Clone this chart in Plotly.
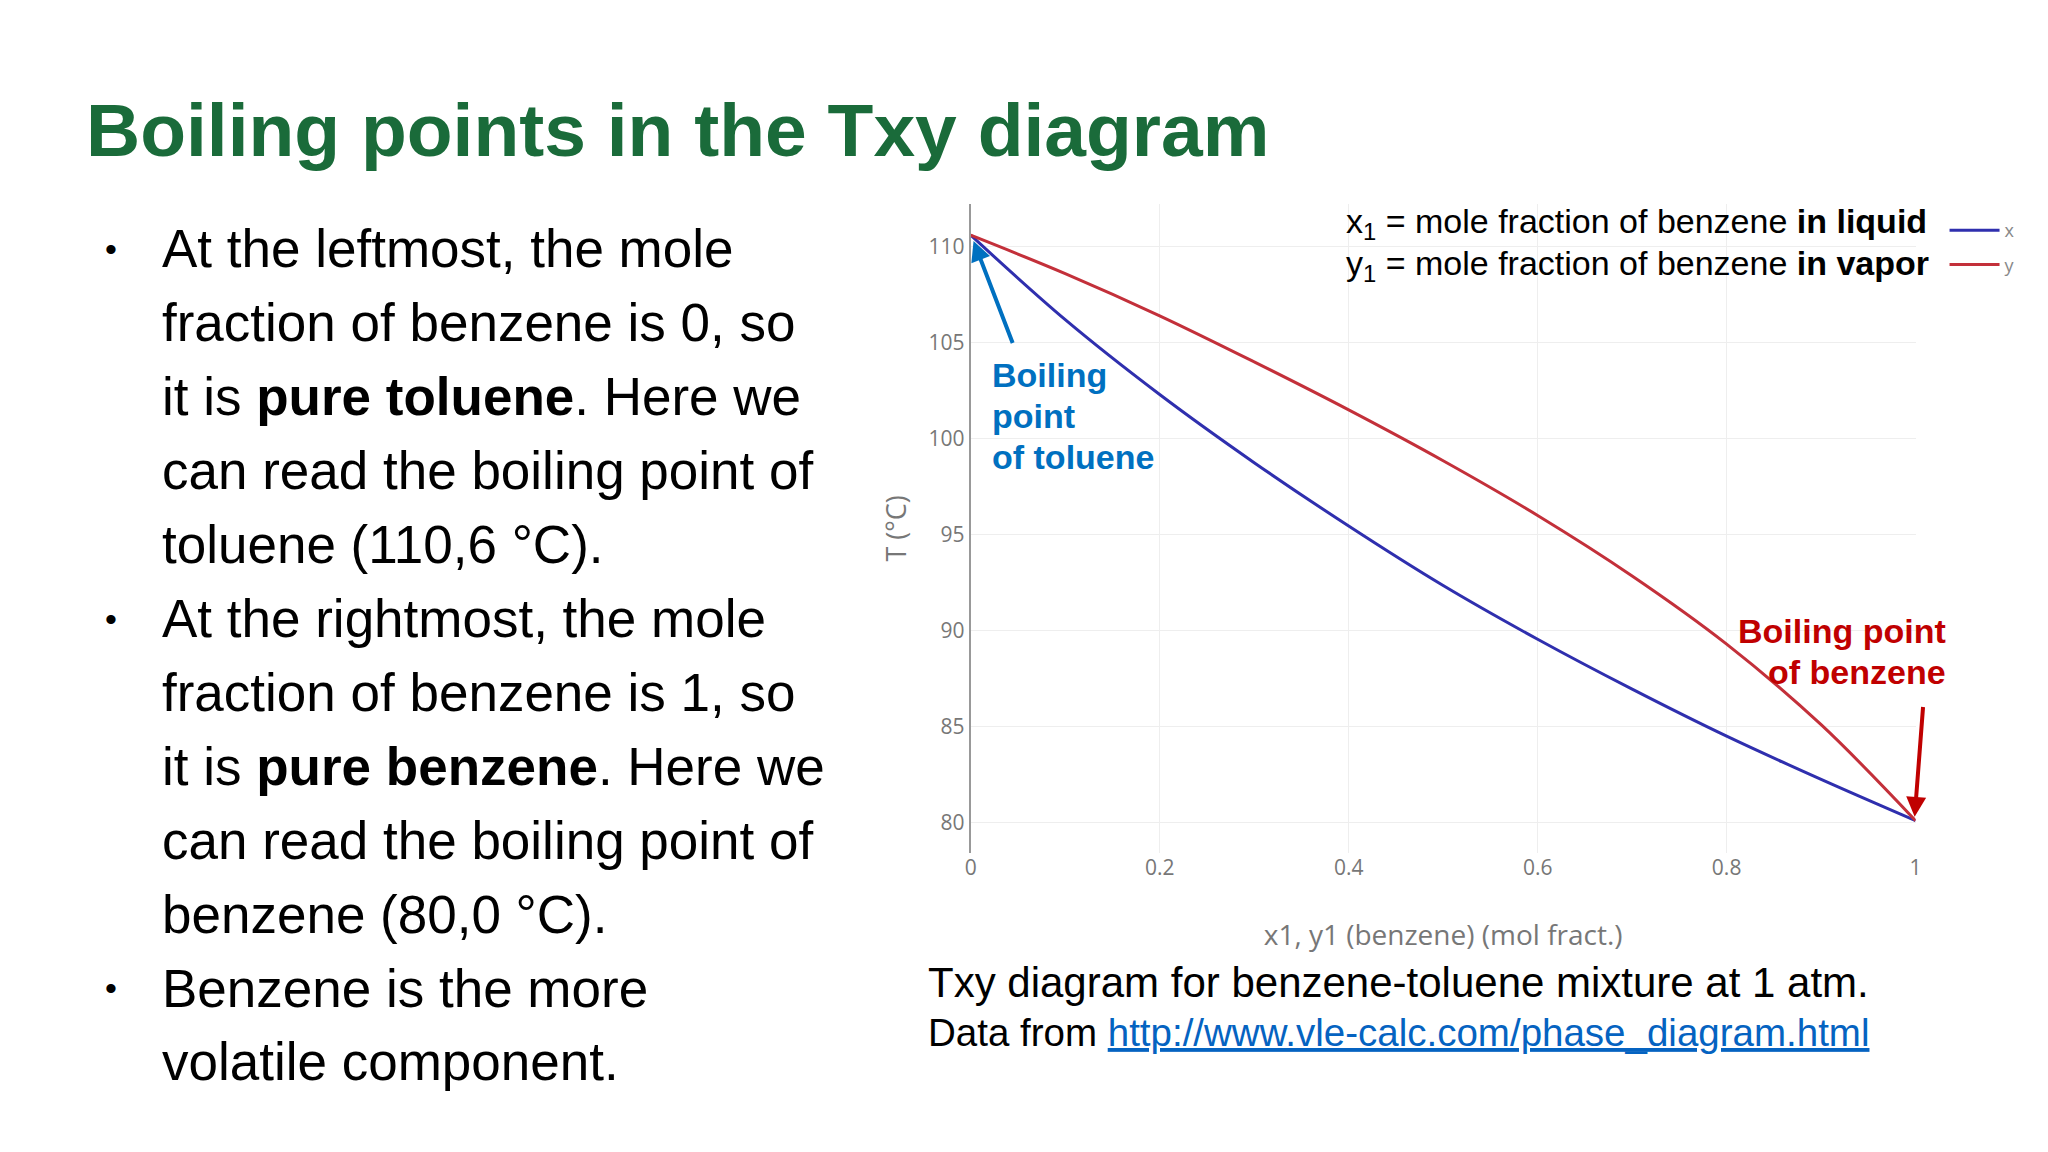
import plotly.graph_objects as go

# the page adds an 8px body margin, so the figure is a bit smaller
OFF = 8
W = 2048 - 2 * OFF
H = 1152 - 2 * OFF

# Txy data for benzene-toluene at 1 atm
mole_frac = [0.0, 0.1, 0.2, 0.3, 0.4, 0.5, 0.6, 0.7, 0.8, 0.9, 1.0]
T_liquid = [110.6, 106.2, 102.3, 98.75, 95.45, 92.35, 89.55, 86.95, 84.5, 82.25, 80.1]
T_vapor = [110.6, 108.6, 106.4, 104.0, 101.5, 98.85, 96.0, 92.85, 89.3, 85.1, 80.1]

y_ticks = [80, 85, 90, 95, 100, 105, 110]
x_ticks = [0, 0.2, 0.4, 0.6, 0.8, 1]

bullet_lines = [
    "At the leftmost, the mole",
    "fraction of benzene is 0, so",
    "it is <b>pure toluene</b>. Here we",
    "can read the boiling point of",
    "toluene (110,6 °C).",
    "At the rightmost, the mole",
    "fraction of benzene is 1, so",
    "it is <b>pure benzene</b>. Here we",
    "can read the boiling point of",
    "benzene (80,0 °C).",
    "Benzene is the more",
    "volatile component.",
]
bullet_starts = [0, 5, 10]

FONT = "Liberation Sans, Arial, sans-serif"
BLUE_TXT = "#0070c0"
RED_TXT = "#c00000"


def px(x):
    return (x - OFF) / W


def py(y):
    return 1 - (y - OFF) / H


def label(x, y, text, size, color="black", anchor="left"):
    return dict(x=px(x), y=py(y), xref="paper", yref="paper", text=text,
                showarrow=False, xanchor=anchor, yanchor="middle",
                font=dict(family=FONT, size=size, color=color))


fig = go.Figure()
fig.add_trace(go.Scatter(x=mole_frac, y=T_liquid, name="x", mode="lines",
                         legendgroup="x",
                         line=dict(color="#2f2fae", width=3, shape="spline")))
fig.add_trace(go.Scatter(x=mole_frac, y=T_vapor, name="y", mode="lines",
                         legendgroup="y",
                         line=dict(color="#c3303a", width=3, shape="spline")))

annots = []
annots.append(label(78, 130, "<b>Boiling points in the Txy diagram</b>", 75, "#1a6b3a"))

for i, line in enumerate(bullet_lines):
    yc = 249 + 73.9 * i
    annots.append(label(155, yc, line, 53))
    if i in bullet_starts:
        annots.append(label(106, yc, "•", 34, anchor="center"))

annots.append(label(1934, 224, "x<sub>1</sub> = mole fraction of benzene <b>in liquid</b>", 34, anchor="right"))
annots.append(label(1936, 265, "y<sub>1</sub> = mole fraction of benzene <b>in vapor</b>", 34, anchor="right"))

for j, t in enumerate(["Boiling", "point", "of toluene"]):
    annots.append(label(990, 375 + 41 * j, "<b>" + t + "</b>", 34, BLUE_TXT))
for j, t in enumerate(["Boiling point", "of benzene"]):
    annots.append(label(1953, 631 + 41 * j, "<b>" + t + "</b>", 34, RED_TXT, anchor="right"))

annots.append(label(925, 982, "Txy diagram for benzene-toluene mixture at 1 atm.", 42))
annots.append(label(925, 1032,
                    "Data from <a href='http://www.vle-calc.com/phase_diagram.html'>"
                    "<span style='color:#0563c1;text-decoration:underline'>"
                    "http://www.vle-calc.com/phase_diagram.html</span></a>", 38.5))

# arrows pointing at the pure-component boiling points
annots.append(dict(x=0.003, y=110.3, ax=0.045, ay=104.9, xref="x", yref="y",
                   axref="x", ayref="y", text="", showarrow=True,
                   arrowhead=2, arrowsize=1, arrowwidth=4, arrowcolor=BLUE_TXT))
annots.append(dict(x=0.999, y=80.3, ax=1.008, ay=86.1, xref="x", yref="y",
                   axref="x", ayref="y", text="", showarrow=True,
                   arrowhead=2, arrowsize=1, arrowwidth=4, arrowcolor=RED_TXT))

fig.update_layout(
    width=W, height=H, autosize=False,
    margin=dict(l=0, r=0, t=0, b=0),
    paper_bgcolor="white", plot_bgcolor="white",
    font=dict(family="Open Sans, sans-serif", color="#666"),
    annotations=annots,
    showlegend=True,
    legend=dict(x=px(1950), y=py(212), xanchor="left", yanchor="top",
                font=dict(size=18, color="#888"), itemwidth=50,
                tracegroupgap=8, bgcolor="rgba(0,0,0,0)"),
    xaxis=dict(domain=[px(970.4), px(1920.9)], range=[0, 1],
               tickvals=x_ticks, showgrid=True, gridcolor="#eeeeee",
               zeroline=False, showline=False, ticks="",
               tickfont=dict(size=21, color="#777"),
               title=dict(text="x1, y1 (benzene) (mol fract.)",
                          font=dict(size=28, color="#777"), standoff=45)),
    yaxis=dict(domain=[py(853.3), py(203.5)], range=[78.4, 112.25],
               tickvals=y_ticks, showgrid=True, gridcolor="#eeeeee",
               zeroline=False, showline=True, linecolor="#999", linewidth=2,
               ticks="", tickfont=dict(size=21, color="#777"),
               title=dict(text="T (°C)", font=dict(size=27, color="#777"),
                          standoff=14)),
)

fig.write_html("out.html")
